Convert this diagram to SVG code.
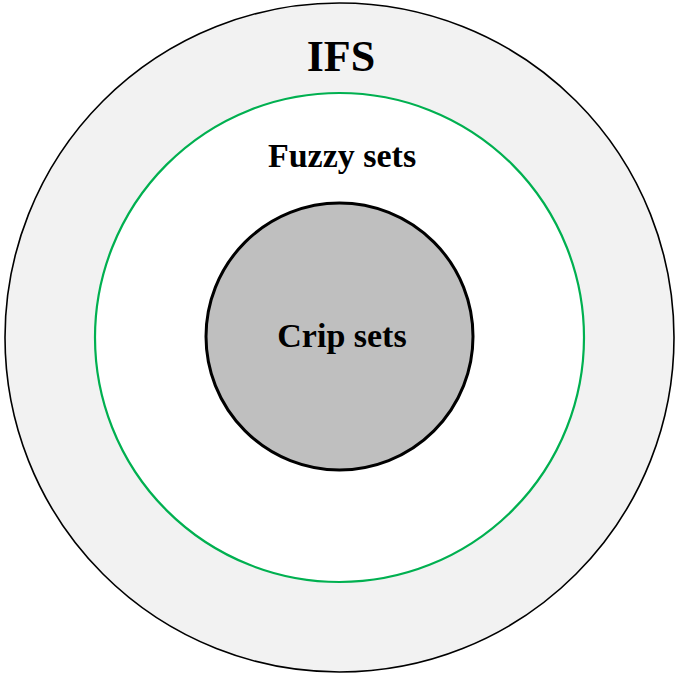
<svg xmlns="http://www.w3.org/2000/svg" width="685" height="685" viewBox="0 0 685 685">
<style>
.lbl{font-family:"Liberation Serif","Times New Roman",serif;font-weight:bold;fill:#000;text-anchor:middle}
</style>
<rect width="685" height="685" fill="#fff"/>
<g id="ifs">
<circle cx="339.5" cy="337.5" r="334.5" fill="#f2f2f2" stroke="#000" stroke-width="1.6"/>
<text class="lbl" x="341" y="71" font-size="44">IFS</text>
</g>
<g id="fuzzy">
<circle cx="339.5" cy="337.5" r="244.5" fill="#fff" stroke="#00b050" stroke-width="2.2"/>
<text class="lbl" x="342" y="167" font-size="34">Fuzzy sets</text>
</g>
<g id="crisp">
<circle cx="339.5" cy="336.5" r="133.5" fill="#bfbfbf" stroke="#000" stroke-width="3"/>
<text class="lbl" x="342" y="347" font-size="34">Crip sets</text>
</g>
<g id="connectors"/>
</svg>
